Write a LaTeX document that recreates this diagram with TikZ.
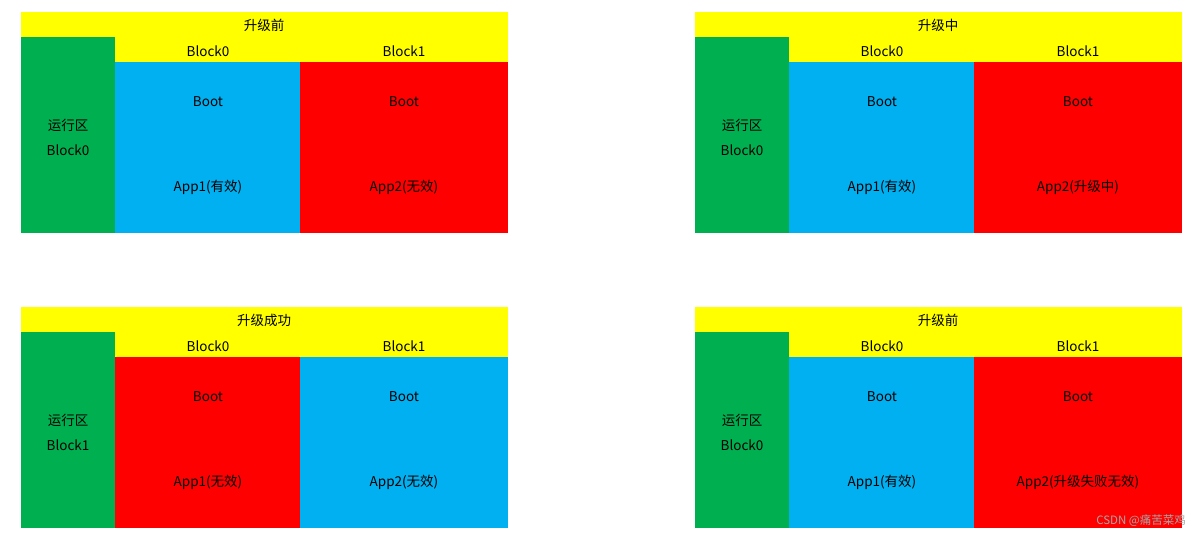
\documentclass[tikz,border=0pt]{standalone}
\usepackage{fontspec}
\setmainfont{Noto Sans CJK SC}
\definecolor{cy}{HTML}{FFFF00}
\definecolor{cg}{HTML}{00B050}
\definecolor{cb}{HTML}{00B0F0}
\definecolor{cr}{HTML}{FF0000}
\newcommand\mypanel[9]{%
\begin{scope}[shift={(#1,#2)}]
\fill[cy] (0,0) rectangle (487,50);
\fill[cg] (0,25) rectangle (94,221);
\fill[#6] (94,50) rectangle (279,221);
\fill[#7] (279,50) rectangle (487,221);
\node[txt] (#9t) at (243,13) {#3};
\node[txt] (#9a) at (187,39) {Block0};
\node[txt] (#9b) at (383,39) {Block1};
\node[txt] (#9c) at (187,90) {Boot};
\node[txt] (#9d) at (383,90) {Boot};
\node[txt] (#9e) at (187,175) {#4};
\node[txt] (#9f) at (383,175) {#5};
\node[txt,align=center] (#9g) at (47,125) {运行区\\#8};
\end{scope}}
\begin{document}
\begin{tikzpicture}[x=1pt,y=-1pt,txt/.style={inner sep=0pt,font=\fontsize{13.5}{25}\selectfont}]
\useasboundingbox (0,0) rectangle (1202,540);
\fill[white] (0,0) rectangle (1202,540);
\mypanel{21}{12}{升级前}{App1(有效)}{App2(无效)}{cb}{cr}{Block0}{p}
\mypanel{695}{12}{升级中}{App1(有效)}{App2(升级中)}{cb}{cr}{Block0}{q}
\mypanel{21}{307}{升级成功}{App1(无效)}{App2(无效)}{cr}{cb}{Block1}{r}
\mypanel{695}{307}{升级前}{App1(有效)}{App2(升级失败无效)}{cb}{cr}{Block0}{s}
\node[txt,text=gray!70,font=\fontsize{11.5}{13}\selectfont,anchor=east] (wm) at (1186,521) {CSDN @痛苦菜鸡};
\end{tikzpicture}
\end{document}
